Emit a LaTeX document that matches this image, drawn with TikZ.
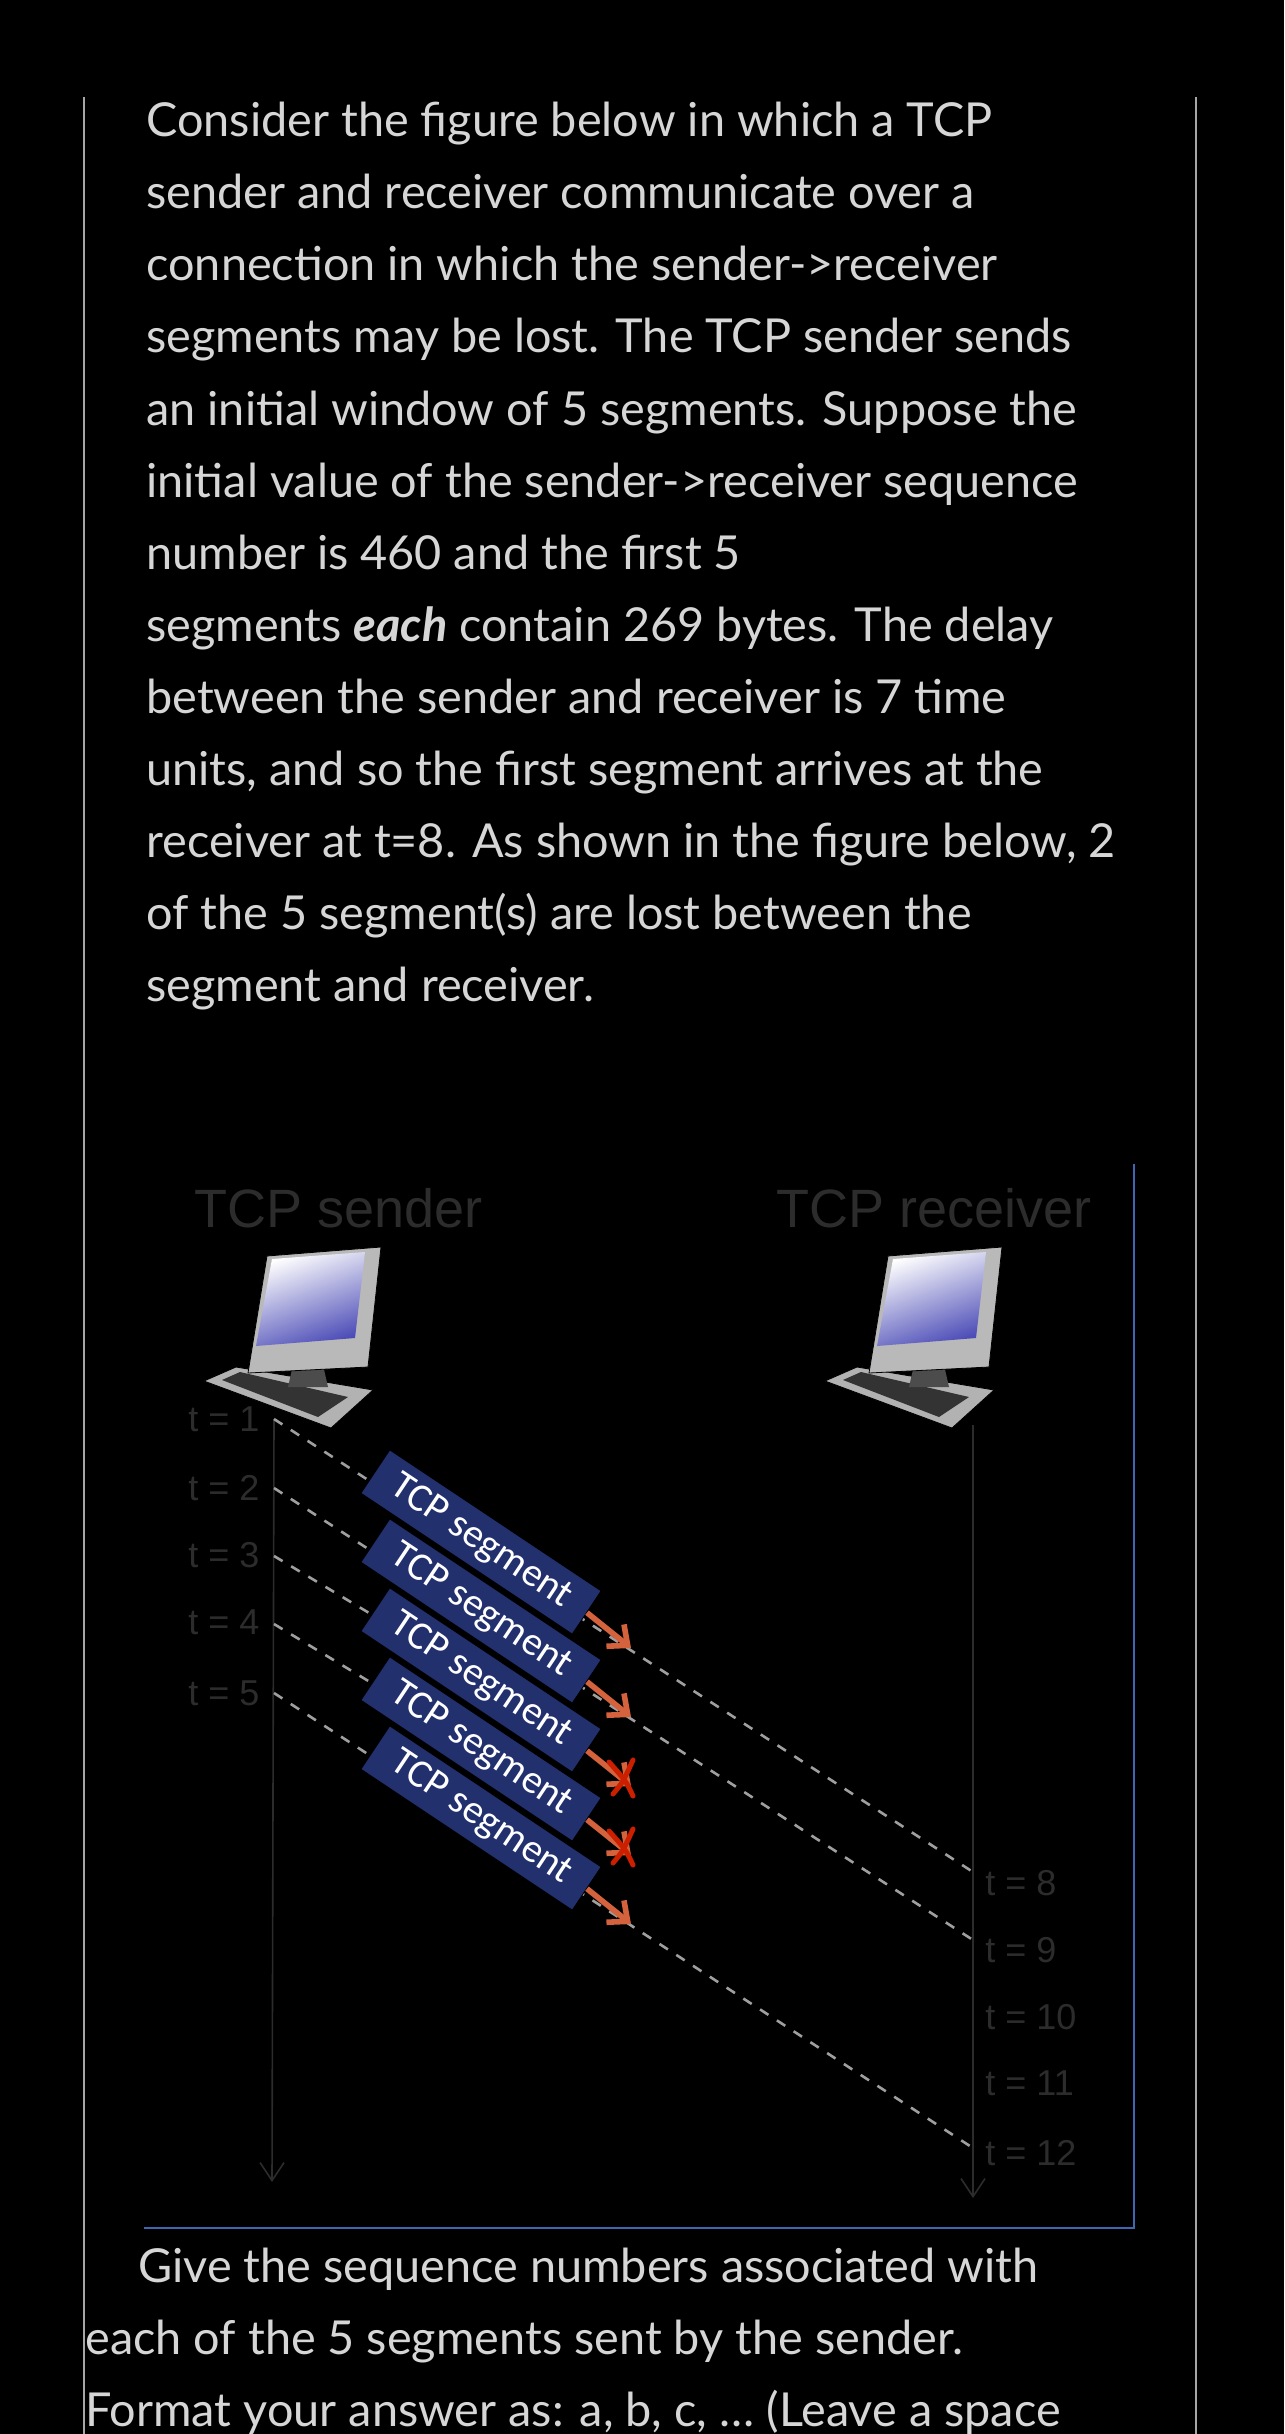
\documentclass[tikz,border=0pt]{standalone}
\usepackage{fontspec}
\setmainfont{Lato}
\newfontfamily\arialf{Liberation Sans}
\newfontfamily\calf{Carlito}
\usetikzlibrary{arrows.meta}
\definecolor{txt}{HTML}{D6D6D6}
\definecolor{dim}{HTML}{2C2C2C}
\definecolor{navy}{HTML}{22306E}
\definecolor{orng}{HTML}{D4623C}
\definecolor{frameblue}{HTML}{3F66B0}
\tikzset{
  qline/.style={anchor=base west,inner sep=0,text=txt,font=\fontsize{23.4}{26}\selectfont},
  hdr/.style={anchor=base west,inner sep=0,text=dim,font=\arialf\fontsize{27}{32}\selectfont},
  tlab/.style={anchor=base west,inner sep=0,text=dim,font=\arialf\fontsize{18}{20}\selectfont},
  axis/.style={draw=dim,line width=0.8pt,-{Straight Barb[length=9pt,width=12pt,line width=0.8pt]}},
  seg/.style={draw=black,fill=navy,text=white,rotate=-33.7,minimum width=127pt,minimum height=26pt,inner sep=0,font=\calf\fontsize{20}{22}\selectfont},
  path/.style={draw=gray!75,dash pattern=on 5pt off 5pt,line width=1.3pt},
  oarrow/.style={draw=orng,line width=2.8pt,-{Straight Barb[length=8pt,width=14pt,line width=2.8pt]}},
  pics/computer/.style={code={
    \fill[gray!60,draw=black] (-12,120) -- (-44,134) -- (83,181) -- (125,143) -- cycle;
    \fill[black!80] (-26,133) -- (-8,125) -- (100,150) -- (70,170) -- cycle;
    \fill[black!70] (45,118) -- (75,118) -- (80,140) -- (40,140) -- cycle;
    \fill[gray!55,draw=black] (19,9) -- (133,0) -- (120,120) -- (0,126) -- cycle;
    \shade[top color=blue!60!black!70,bottom color=white,shading angle=200] (24,12) -- (117,5) -- (107,91) -- (8,99) -- cycle;
  }}
}
\begin{document}
\begin{tikzpicture}[x=0.5pt,y=-0.5pt]
\fill[black] (0,0) rectangle (1284,2434);
\useasboundingbox (0,0) rectangle (1284,2434);
\draw[gray!70,line width=1pt] (84,97) -- (84,2434);
\draw[gray!70,line width=1pt] (1196,97) -- (1196,2434);
\node[qline] (q1) at (146,137) {Consider the figure below in which a TCP};
\node[qline] (q2) at (146,209) {sender and receiver communicate over a};
\node[qline] (q3) at (146,281) {connection in which the sender->receiver};
\node[qline] (q4) at (146,353) {segments may be lost. The TCP sender sends};
\node[qline] (q5) at (146,425) {an initial window of 5 segments. Suppose the};
\node[qline] (q6) at (146,497) {initial value of the sender->receiver sequence};
\node[qline] (q7) at (146,569) {number is 460 and the first 5};
\node[qline] (q8) at (146,641) {segments \textbf{\textit{each}} contain 269 bytes. The delay};
\node[qline] (q9) at (146,713) {between the sender and receiver is 7 time};
\node[qline] (q10) at (146,785) {units, and so the first segment arrives at the};
\node[qline] (q11) at (146,857) {receiver at t=8. As shown in the figure below, 2};
\node[qline] (q12) at (146,929) {of the 5 segment(s) are lost between the};
\node[qline] (q13) at (146,1001) {segment and receiver.};
\draw[frameblue,line width=1pt] (1134,1164) -- (1134,2228) -- (144,2228);
\node[hdr] (hs) at (194,1227) {TCP sender};
\node[hdr] (hr) at (776,1227) {TCP receiver};
\pic at (248,1247) {computer};
\pic at (869,1247) {computer};
\coordinate (sTop) at (274,1419);
\coordinate (sBot) at (272,2182);
\coordinate (rTop) at (973,1425);
\coordinate (rBot) at (973,2198);
\draw[axis] (sTop) -- (sBot);
\draw[axis] (rTop) -- (rBot);
\foreach \i/\y in {1/1431,2/1500,3/1567,4/1634,5/1705}{
  \node[tlab] (ts\i) at (188,\y) {t = \i};
}
\foreach \i/\y in {8/1895,9/1962,10/2029,11/2095,12/2165}{
  \node[tlab] (tr\i) at (985,\y) {t = \i};
}
\foreach \i/\y in {1/1419,2/1488,3/1556,4/1624,5/1693}{
  \coordinate (s\i) at (274,\y);
}
\coordinate (r1) at (973,1872);
\coordinate (r2) at (973,1940);
\coordinate (r5) at (973,2148);
\foreach \i/\y in {1/1542,2/1611,3/1680,4/1749,5/1818}{
  \coordinate (c\i) at (481,\y);
}
\draw[path] (s1) -- (r1);
\draw[path] (s2) -- (r2);
\draw[path] (s3) -- (c3);
\draw[path] (s4) -- (c4);
\draw[path] (s5) -- (r5);
\foreach \i in {1,...,5}{
  \node[seg] (g\i) at (c\i) {TCP segment};
}
\foreach \i/\y in {1/1648,2/1717,3/1786,4/1855,5/1924}{
  \coordinate (tip\i) at (631,\y);
  \draw[oarrow] (g\i.east) -- (tip\i);
}
\foreach \i in {3,4}{
  \draw[red!70!orange!80!black,line width=2.5pt,line cap=round] ([shift={(-22,-24)}]tip\i) .. controls ([shift={(-5,-5)}]tip\i) .. ([shift={(2,10)}]tip\i);
  \draw[red!70!orange!80!black,line width=2.5pt,line cap=round] ([shift={(2,-26)}]tip\i) .. controls ([shift={(-8,-4)}]tip\i) .. ([shift={(-18,8)}]tip\i);
}
\node[qline] (b1) at (138,2282) {Give the sequence numbers associated with};
\node[qline] (b2) at (85,2354) {each of the 5 segments sent by the sender.};
\node[qline] (b3) at (85,2426) {Format your answer as: a, b, c, …  (Leave a space};
\end{tikzpicture}
\end{document}
